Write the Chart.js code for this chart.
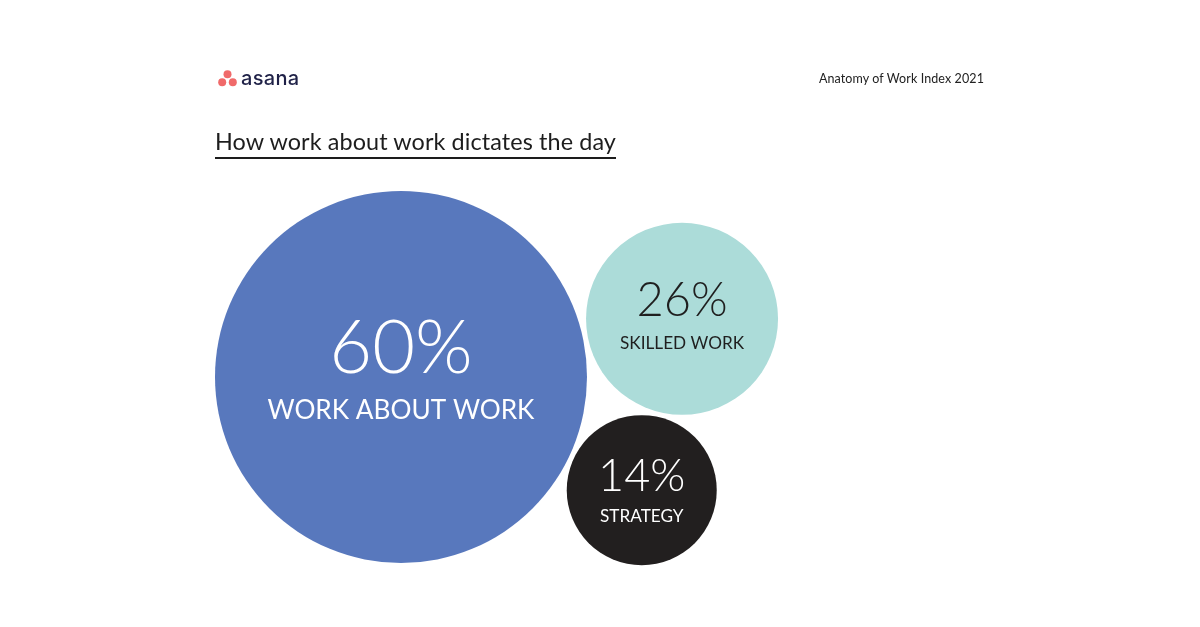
<!DOCTYPE html>
<html>
<head>
<meta charset="utf-8">
<script src="https://cdn.jsdelivr.net/npm/chart.js@4"></script>
<style>
  html, body { margin: 0; padding: 0; background: #ffffff; }
  #wrap { position: relative; width: 1200px; height: 627px; overflow: hidden; font-family: "Lato", "Inter", sans-serif; }
  #chart { position: absolute; left: 0; top: 0; }
  .logo { position: absolute; left: 218px; top: 66px; height: 24px; display: flex; align-items: center; }
  .logo svg { display: block; }
  .logo span { font-family: "Inter", "Lato", sans-serif; font-weight: 500; font-size: 20px; color: #1f2147; margin-left: 4px; letter-spacing: 0.3px; line-height: 24px; }
  .hdr { position: absolute; right: 216px; top: 71px; font-size: 12.5px; color: #222; letter-spacing: 0.1px; }
  .title { position: absolute; left: 215px; top: 127px; font-size: 23.4px; font-weight: 400; color: #1d1d1d; border-bottom: 2px solid #1d1d1d; padding-bottom: 2px; line-height: 28px; letter-spacing: 0.1px; }
</style>
</head>
<body>
<div id="wrap">
  <canvas id="chart" width="1200" height="627"></canvas>
  <div class="logo">
    <svg width="19" height="17" viewBox="0 0 19 17">
      <circle cx="9.5" cy="4.3" r="4" fill="#f06a6a"/>
      <circle cx="4.2" cy="12.2" r="4" fill="#f06a6a"/>
      <circle cx="14.8" cy="12.2" r="4" fill="#f06a6a"/>
    </svg>
    <span>asana</span>
  </div>
  <div class="hdr">Anatomy of Work Index 2021</div>
  <div class="title">How work about work dictates the day</div>
</div>
<script>
// ---- data ----
const categories = ["WORK ABOUT WORK", "SKILLED WORK", "STRATEGY"];
const values = [60, 26, 14];
const valueLabels = ["60%", "26%", "14%"];

// ---- layout / style (not data) ----
const radii = [186, 96, 75];
const gap = 5;
const anchorLeft = 215, anchorTop = 191;
const secondAngleDeg = -11.7;
const colors = ["#5878bd", "#acdcd9", "#221f1f"];
const textColors = ["#ffffff", "#1f1f1f", "#ffffff"];
const valueFont = [74, 47, 45];
const catFont = [26.2, 17.2, 17.2];
const valueDy = [-28, -18, -14];
const catDy = [34, 25, 26];

// packed positions computed from radii (tangent circles with gap)
function packPositions() {
  const A = { x: anchorLeft + radii[0], y: anchorTop + radii[0] };
  const dab = radii[0] + radii[1] + gap;
  const dac = radii[0] + radii[2] + gap;
  const dbc = radii[1] + radii[2] + gap;
  const t = secondAngleDeg * Math.PI / 180;
  const B = { x: A.x + dab * Math.cos(t), y: A.y + dab * Math.sin(t) };
  const angA = Math.acos((dab * dab + dac * dac - dbc * dbc) / (2 * dab * dac));
  const C = { x: A.x + dac * Math.cos(t + angA), y: A.y + dac * Math.sin(t + angA) };
  return [A, B, C];
}
const pos = packPositions();

const labelPlugin = {
  id: 'bubbleLabels',
  afterDatasetsDraw(chart) {
    const ctx = chart.ctx;
    const meta = chart.getDatasetMeta(0);
    meta.data.forEach((el, i) => {
      ctx.save();
      ctx.fillStyle = textColors[i];
      ctx.textAlign = 'center';
      ctx.textBaseline = 'middle';
      ctx.font = '300 ' + valueFont[i] + 'px Lato, Inter, sans-serif';
      ctx.fillText(valueLabels[i], el.x, el.y + valueDy[i]);
      ctx.font = '400 ' + catFont[i] + 'px Lato, Inter, sans-serif';
      ctx.fillText(categories[i], el.x, el.y + catDy[i]);
      ctx.restore();
    });
  }
};

new Chart(document.getElementById('chart'), {
  type: 'bubble',
  data: {
    labels: categories,
    datasets: [{
      data: values.map((v, i) => ({ x: pos[i].x, y: pos[i].y, r: radii[i], v: v })),
      backgroundColor: colors,
      borderWidth: 0,
      hoverBorderWidth: 0,
      hoverRadius: 0,
      clip: false
    }]
  },
  options: {
    responsive: false,
    animation: false,
    events: [],
    layout: { padding: 0, autoPadding: false },
    plugins: { legend: { display: false }, tooltip: { enabled: false } },
    scales: {
      x: { type: 'linear', display: false, min: 0, max: 1200 },
      y: { type: 'linear', display: false, min: 0, max: 627, reverse: true }
    }
  },
  plugins: [labelPlugin]
});
</script>
</body>
</html>
